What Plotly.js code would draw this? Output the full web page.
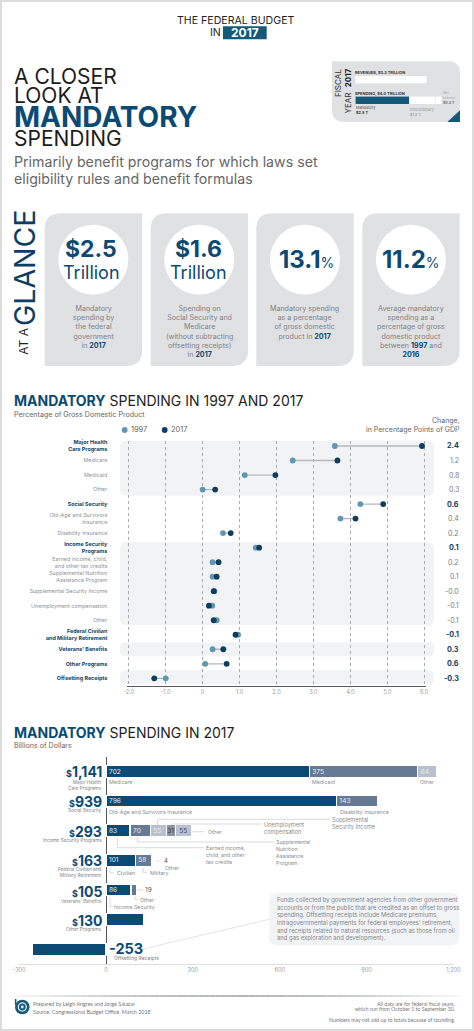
<!DOCTYPE html>
<html><head><meta charset="utf-8">
<script src="https://cdn.plot.ly/plotly-3.0.1.min.js"></script>
<style>html,body{margin:0;padding:0;background:#fff;overflow:hidden}#chart{width:474px;height:1031px}</style>
</head><body><div id="chart"></div>
<script>
// ---------- dot chart data ----------
const rowLabels = ["Major Health<br>Care Programs","Medicare","Medicaid","Other","Social Security","Old-Age and Survivors<br>Insurance","Disability Insurance","Income Security<br>Programs","Earned income, child,<br>and other tax credits","Supplemental Nutrition<br>Assistance Program","Supplemental Security Income","Unemployment compensation","Other","Federal Civilian<br>and Military Retirement","Veterans' Benefits","Other Programs","Offsetting Receipts"];
const rowIsParent = [1,0,0,0,1,0,0,1,0,0,0,0,0,1,1,1,1];
const gdp1997 = [3.58,2.44,1.14,0.0,4.27,3.73,0.55,1.44,0.27,0.27,0.32,0.26,0.38,0.96,0.27,0.07,-1.0];
const gdp2017 = [5.94,3.65,1.97,0.34,4.89,4.14,0.76,1.53,0.43,0.38,0.30,0.17,0.30,0.89,0.56,0.65,-1.31];
const changeLabels = ["2.4","1.2","0.8","0.3","0.6","0.4","0.2","0.1","0.2","0.1","-0.0","-0.1","-0.1","-0.1","0.3","0.6","-0.3"];
const gdpTickVals = [-2,-1,0,1,2,3,4,5,6];
const gdpTickText = ["-2.0","-1.0","0","1.0","2.0","3.0","4.0","5.0","6.0"];
// ---------- stacked bar data (billions) ----------
const barRows = [0,1,2,3,4,5,6];
const seg1 = [702,796,83,101,86,130,-253];
const seg2 = [375,143,70,58,19,null,null];
const seg3 = [64,null,55,4,null,null,null];
const seg4 = [null,null,31,null,null,null,null];
const seg5 = [null,null,55,null,null,null,null];
const seg1Text = ["702","796","83","101","86","",""];
const seg2Text = ["375","143","70","58","","",""];
const seg3Text = ["64","","55","","","",""];
const seg4Text = ["","","31","","","",""];
const seg5Text = ["","","55","","","",""];
const barTotals = ["1,141","939","293","163","105","130"];
const barTotalNames = ["Major Health<br>Care Programs","Social Security","Income Security Programs","Federal Civilian and<br>Military Retirement","Veterans' Benefits","Other Programs"];
const spendTickVals = [-300,0,300,600,900,1200];
const spendTickText = ["-300","0","300","600","900","1,200"];
// ---------- fiscal-year mini bars (trillions) ----------
const fyRevenues = [3.3];
const fyMandatory = [2.5];
const fyDiscretionary = [1.2];
const fyInterest = [0.3];
// ---------- text ----------
const glanceHead = ["$2.5","$1.6"];
const glanceBody = [
 "Mandatory<br>spending by<br>the federal<br>government<br>in <b style='color:#0b4a72'>2017</b>",
 "Spending on<br>Social Security and<br>Medicare<br>(without subtracting<br>offsetting receipts)<br>in <b style='color:#0b4a72'>2017</b>",
 "Mandatory spending<br>as a percentage<br>of gross domestic<br>product in <b style='color:#0b4a72'>2017</b>",
 "Average mandatory<br>spending as a<br>percentage of gross<br>domestic product<br>between <b style='color:#0b4a72'>1997</b> and<br><b style='color:#0b4a72'>2016</b>"];

const W=474,H=1031;
const DARK='#0b4a72',NAVY='#0d3d5f',MID='#667a96',LIGHT='#b9c1cf',GREY='#7f8285',CARD='#e0e1e3',BAND='#f2f3f5';
const FONT='Inter, Lato, sans-serif';
const X=p=>p/W, Y=p=>1-p/H;
const annos=[], shapes=[];
function T(x,y,text,size,color,anchor,extra){
  annos.push(Object.assign({xref:'paper',yref:'paper',x:X(x),y:Y(y),text:text,showarrow:false,
    xanchor:anchor||'left',yanchor:'middle',align:anchor||'left',borderpad:0,borderwidth:0,
    font:{family:FONT,size:size,color:color}},extra||{}));
}
function rect(x0,y0,x1,y1,fill,layer){shapes.push({type:'rect',xref:'paper',yref:'paper',x0:X(x0),x1:X(x1),y0:Y(y0),y1:Y(y1),fillcolor:fill,line:{width:0},layer:layer||'below'});}
function circle(cx,cy,r,fill,layer){shapes.push({type:'circle',xref:'paper',yref:'paper',x0:X(cx-r),x1:X(cx+r),y0:Y(cy-r),y1:Y(cy+r),fillcolor:fill,line:{width:0},layer:layer||'below'});}
function line(pts,color,w){
  const d=pts.map((p,i)=>(i?'L':'M')+X(p[0])+' '+Y(p[1])).join(' ');
  shapes.push({type:'path',xref:'paper',yref:'paper',path:d,line:{color:color||'#c9cbce',width:w||0.7},fillcolor:'rgba(0,0,0,0)',layer:'above'});
}
function rounded(x0,y0,x1,y1,tl,tr,br,bl,fill){
  const P=(x,y)=>X(x)+' '+Y(y);
  const d='M'+P(x0+tl,y0)+' L'+P(x1-tr,y0)+' Q'+P(x1,y0)+' '+P(x1,y0+tr)+' L'+P(x1,y1-br)+' Q'+P(x1,y1)+' '+P(x1-br,y1)+
    ' L'+P(x0+bl,y1)+' Q'+P(x0,y1)+' '+P(x0,y1-bl)+' L'+P(x0,y0+tl)+' Q'+P(x0,y0)+' '+P(x0+tl,y0)+' Z';
  shapes.push({type:'path',xref:'paper',yref:'paper',path:d,fillcolor:fill,line:{width:0},layer:'below'});
}

// frame
rect(2,2,472,1029,'#ffffff');

// header
T(236.3,20,"THE FEDERAL BUDGET",10.6,'#222','center');
T(215,33,"IN",10.6,'#222','center');
rect(223,26.3,266.7,39.3,'#14587a');
T(244.8,33,"<b>2017</b>",12,'#fff','center');
T(14,76,"A CLOSER",21,'#1c1c1c');
T(14,96,"LOOK AT",21,'#1c1c1c');
T(14,117,"<b>MANDATORY</b>",28,DARK);
T(14,138,"SPENDING",21,'#1c1c1c');
T(14,162,"Primarily benefit programs for which laws set",14.2,'#666');
T(14,179,"eligibility rules and benefit formulas",14.2,'#666');

// fiscal-year card
rounded(332,61.3,460,122,0,12,0,12,CARD);
shapes.push({type:'path',xref:'paper',yref:'paper',path:'M'+X(447.3)+' '+Y(122)+' L'+X(460)+' '+Y(110.3)+' L'+X(460)+' '+Y(122)+' Z',fillcolor:'#14587a',line:{width:0},layer:'below'});
T(338.5,83.5,"FISCAL",8,'#333','center',{textangle:-90});
T(347.7,77.5,"<b>2017</b>",8,'#222','center',{textangle:-90});
T(347.7,102.8,"YEAR",8,'#333','center',{textangle:-90});
T(355.3,72.7,"<b>REVENUES, $3.3 TRILLION</b>",3.9,'#333');
T(355.3,93.5,"<b>SPENDING, $4.0 TRILLION</b>",3.9,'#333');
T(356,108,"Mandatory",3.8,'#555');
T(356,113,"<b>$2.5 T</b>",3.8,'#333');
T(409.5,109.5,"Discretionary",3.8,'#999');
T(409.5,114.5,"$1.2 T",3.8,'#888');
T(442.5,93,"Net",3.4,'#aaa');
T(442.5,97.5,"Interest",3.4,'#aaa');
T(442.5,102.5,"<b>$0.3 T</b>",3.6,'#777');

// at a glance
T(24,268,"GLANCE",28.5,NAVY,'center',{textangle:-90});
T(24,341.7,"AT A",12,'#1c1c1c','center',{textangle:-90});
const cardX=[44.7,150.7,256.3,362.3];
cardX.forEach((cx,i)=>{
  rounded(cx,213.3,cx+97.4,366,16,0,16,0,CARD);
  circle(cx+48.6,259.7,35,'#fff');
  T(cx+48.6,304,glanceBody[i],7.1,GREY,'center',{yanchor:'top'});
});
T(91,249,"<b>"+glanceHead[0]+"</b>",23,DARK,'center');
T(91,272,"Trillion",18,DARK,'center');
T(198.3,249,"<b>"+glanceHead[1]+"</b>",23,DARK,'center');
T(198.3,272,"Trillion",18,DARK,'center');
T(306,259,"<b>13.1</b><span style='font-size:14px'>%</span>",24,DARK,'center');
T(411,259,"<b>11.2</b><span style='font-size:14px'>%</span>",24,DARK,'center');

// dot chart furniture
T(14,400.3,"<b style='color:#0b4a72'>MANDATORY</b> SPENDING IN 1997 AND 2017",14,'#222');
T(14,414,"Percentage of Gross Domestic Product",7.1,'#666');
T(460,420.3,"Change,",7,'#666','right');
T(460,429.7,"in Percentage Points of GDP",7,'#666','right');
circle(124.7,430,2.9,'#5f97b0');
T(130.5,430,"1997",7.4,'#666');
circle(164.7,430,2.9,NAVY);
T(170.5,430,"2017",7.4,'#666');
rounded(120,440.7,434,495.7,6,6,6,6,BAND);
rounded(120,542.3,434,625,6,6,6,6,BAND);
rounded(120,642.3,434,656.3,5,5,5,5,BAND);
rounded(120,670.3,434,684.3,5,5,5,5,BAND);

// bar chart furniture
T(14,732.7,"<b style='color:#0b4a72'>MANDATORY</b> SPENDING IN 2017",14,'#222');
T(14,745,"Billions of Dollars",7.1,'#666');
const totalY=[771.8,801.2,831.2,860.8,891.2,920.5], subY=[784.6,809.5,839.5,871.8,900.8,929.2];
barTotals.forEach((t,i)=>{
  T(101.5,totalY[i],"<b><span style='font-size:9px'>$</span>"+t+"</b>",14,DARK,'right');
  T(101.7,subY[i],barTotalNames[i],4.7,GREY,'right');
});
T(109,948.6,"<b>-253</b>",14.5,DARK);
T(113.7,958.4,"Offsetting Receipts",5,GREY);
const S=5.3,LG='#8a8d90';
T(109.3,781.7,"Medicare",S,LG); T(312,781.7,"Medicaid",S,LG); T(420.3,781.7,"Other",S,LG);
T(109.3,812,"Old-Age and Survivors Insurance",S,LG); T(340,812,"Disability Insurance",S,LG);
T(332,823.8,"Supplemental<br>Security Income",5.6,LG);
T(264,828.5,"Unemployment<br>compensation",5.6,LG);
T(208.3,831.7,"Other",S,LG);
T(206.3,854.7,"Earned income,<br>child, and other<br>tax credits",S,LG);
T(276,852,"Supplemental<br>Nutrition<br>Assistance<br>Program",S,LG);
T(165.3,867.6,"Other",S,LG); T(163.5,860.2,"4",6,'#555');
T(116.7,873.3,"Civilian",S,LG); T(150.3,873.3,"Military",S,LG);
T(144.7,890,"19",6.5,'#555');
T(140,899.5,"Other",S,LG); T(114.3,907,"Income Security",S,LG);
line([[157.7,825],[157.7,819.3],[330,819.3]]);
line([[171.7,825],[171.7,824],[261.7,824]]);
line([[192.5,831.7],[204,831.7]]);
line([[117.3,837],[117.3,847.7],[204,847.7]]);
line([[137.3,837],[137.3,842],[274,842]]);
line([[156,861],[159.5,861]]);
line([[110,868],[110,872.7],[113.5,872.7]]);
line([[143.3,868],[143.3,872.7],[147,872.7]]);
line([[136.7,890],[143.3,890]]);
line([[135,896.5],[135,899.5],[138,899.5]]);
line([[110,897],[110,906.7],[113,906.7]]);
line([[141.7,949.3],[269.3,919.3]],'#d5d7da');
rounded(269.3,892.7,459.3,945.3,8,8,8,8,BAND);
T(276.7,919,"Funds collected by government agencies from other government<br>accounts or from the public that are credited as an offset to gross<br>spending. Offsetting receipts include Medicare premiums,<br>intragovernmental payments for federal employees' retirement,<br>and receipts related to natural resources (such as those from oil<br>and gas exploration and development).",5.9,'#85888b');

// footer
const steps=80;
for(let i=0;i<steps;i++){
  const a=Math.sin(Math.PI*(i+0.5)/steps);
  const c=Math.round(245-65*a);
  rect(15+i*(445/steps),995,15+(i+1)*(445/steps),997,'rgb('+c+','+(c+3)+','+(c+3)+')');
}
circle(22.3,1007,7.3,'#14587a');
rect(14.9,999,16.4,1005,'#14587a');
circle(22.3,1007,4.7,'#dfe8ec');
circle(22.3,1007,3.4,'#1b5f7e');
circle(22.3,1007,1.4,'#dfe8ec');
const FF='Lato, sans-serif';
T(33.3,1004.3,"Prepared by Leigh Angres and Jorge Salazar",5.2,'#777',null,{font:{family:FF,size:5.4,color:'#777'}});
T(33.3,1011.7,"Source: Congressional Budget Office, March 2018",5.2,'#777',null,{font:{family:FF,size:5.4,color:'#777'}});
T(455,1003.7,"All data are for federal fiscal years,",5,'#777','right',{font:{family:FF,size:5.2,color:'#777'}});
T(455,1009.3,"which run from October 1 to September 30.",5,'#777','right',{font:{family:FF,size:5.2,color:'#777'}});
T(455,1020.3,"Numbers may not add up to totals because of rounding.",5,'#777','right',{font:{family:FF,size:5.2,color:'#777'}});

// change column (data y, paper x)
changeLabels.forEach((c,i)=>{
  annos.push({xref:'paper',yref:'y',x:X(459.7),y:i,text:rowIsParent[i]?"<b style='color:#0d3d5f'>"+c+"</b>":c,showarrow:false,xanchor:'right',yanchor:'middle',align:'right',borderpad:0,font:{family:FONT,size:rowIsParent[i]?7.2:7,color:'#7a7d80'}});
});

// traces
const rows=rowLabels.map((_,i)=>i);
const connX=[],connY=[];
rows.forEach(i=>{connX.push(gdp1997[i],gdp2017[i],null);connY.push(i,i,null);});
const segTrace=(v,t,c,tc,anchor)=>({type:'bar',orientation:'h',x:v,y:barRows,xaxis:'x2',yaxis:'y2',showlegend:false,hoverinfo:'skip',cliponaxis:false,
  marker:{color:c,line:{color:'#fff',width:1.2}},text:t,textposition:'inside',insidetextanchor:anchor||'start',textangle:0,
  insidetextfont:{family:FONT,size:6.6,color:tc},constraintext:'none'});
const fyTrace=(name,v,row,c)=>({type:'bar',orientation:'h',name:name,x:v,y:[row],xaxis:'x3',yaxis:'y3',showlegend:false,hoverinfo:'skip',marker:{color:c,line:{color:CARD,width:0.6}}});
const traces=[
 {type:'scatter',mode:'lines',x:connX,y:connY,xaxis:'x',yaxis:'y',line:{color:'#b4b7bb',width:1.3},showlegend:false,hoverinfo:'skip'},
 {type:'scatter',mode:'markers',name:'1997',x:gdp1997,y:rows,xaxis:'x',yaxis:'y',marker:{color:'#5f97b0',size:5.8},showlegend:false},
 {type:'scatter',mode:'markers',name:'2017',x:gdp2017,y:rows,xaxis:'x',yaxis:'y',marker:{color:NAVY,size:5.8},showlegend:false},
 segTrace(seg1,seg1Text,DARK,'#e8eef3'),
 segTrace(seg2,seg2Text,MID,'#e8eef3'),
 segTrace(seg3,seg3Text,LIGHT,'#e8eef3'),
 segTrace(seg4,seg4Text,'#8b94a6','#2f3a48','middle'),
 segTrace(seg5,seg5Text,LIGHT,'#44505f','middle'),
 fyTrace('Revenues',fyRevenues,0,'#fff'),
 fyTrace('Mandatory',fyMandatory,1,'#14587a'),
 fyTrace('Discretionary',fyDiscretionary,1,'#fff'),
 fyTrace('Net interest',fyInterest,1,'#fff')
];

const layout={
 width:W,height:H,autosize:false,margin:{l:0,r:0,t:0,b:0,pad:0},showlegend:false,
 paper_bgcolor:'#dcdcdc',plot_bgcolor:'rgba(0,0,0,0)',barmode:'stack',bargap:0.6,
 font:{family:FONT},
 xaxis:{domain:[X(127.3),X(425.7)],range:[-2.04,6.04],anchor:'y',tickmode:'array',tickvals:gdpTickVals,ticktext:gdpTickText,
   tickfont:{size:5.6,color:'#9a9da0'},showgrid:true,griddash:'dot',gridcolor:'#a9acb0',gridwidth:0.7,zeroline:false,
   showline:true,linecolor:'#5a5d60',linewidth:1.3,ticks:''},
 yaxis:{domain:[Y(686),Y(440.7)],range:[16.53,-0.365],anchor:'x',tickmode:'array',tickvals:rows,
   ticktext:rowLabels.map((l,i)=>rowIsParent[i]?"<b style='color:#0d4468'>"+l+"</b>":l),
   tickfont:{size:5.4,color:'#8f9296'},showgrid:false,zeroline:false,showline:false,ticks:'',ticklabelstandoff:19},
 xaxis2:{domain:[X(19),X(454)],range:[-300.5,1202],anchor:'y2',tickmode:'array',tickvals:spendTickVals,ticktext:spendTickText,
   tickfont:{size:5.6,color:'#9a9da0'},showgrid:false,zeroline:true,zerolinecolor:'#55585b',zerolinewidth:1.4,
   showline:true,linecolor:'#dcdee0',linewidth:1,ticks:''},
 yaxis2:{domain:[Y(964),Y(756.7)],range:[6.5,-0.5],anchor:'x2',showticklabels:false,showgrid:false,zeroline:false,showline:false,ticks:''},
 xaxis3:{domain:[X(355.3),X(442)],range:[0,4.01],anchor:'y3',visible:false},
 yaxis3:{domain:[Y(110.6),Y(69.4)],range:[1.5,-0.5],anchor:'x3',visible:false},
 annotations:annos,shapes:shapes
};
Plotly.newPlot('chart',traces,layout,{displayModeBar:false,responsive:false});
</script></body></html>
